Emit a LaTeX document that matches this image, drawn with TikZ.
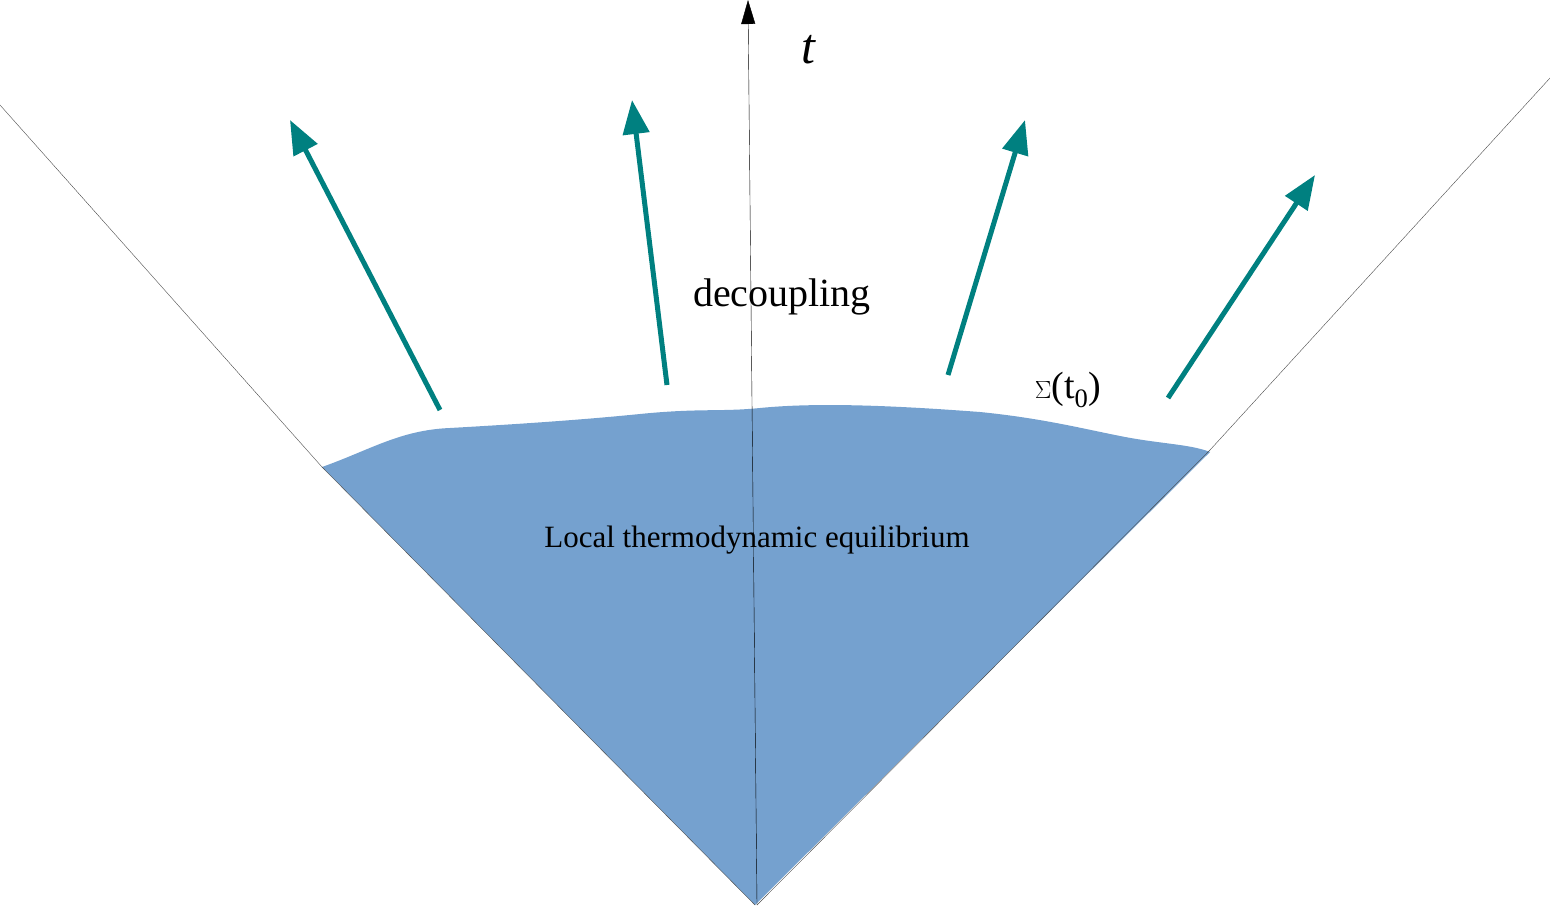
\documentclass[tikz,border=0pt]{standalone}
\usepackage{fontspec}
\setmainfont{Liberation Serif}
\usetikzlibrary{arrows.meta}
\definecolor{fillblue}{HTML}{75A1CF}
\definecolor{teal2}{HTML}{008080}
\tikzset{flow/.style={draw=teal2,line width=5pt,-{Triangle[length=34pt,width=26pt]}},
thin/.style={draw=black!70,line width=0.4pt}}
\begin{document}
\begin{tikzpicture}[x=1pt,y=-1pt]
\useasboundingbox (0,0) rectangle (1550,912);
\fill[fillblue] (755,905) -- (322,467) .. controls (370,450) and (400,430) .. (450,428)
 .. controls (520,424) and (580,420) .. (640,414) .. controls (700,408) and (720,412) .. (760,408)
 .. controls (820,402) and (900,406) .. (980,412) .. controls (1040,418) and (1080,428) .. (1120,436)
 .. controls (1160,444) and (1190,444) .. (1210,452) -- cycle;
\coordinate (apex) at (755,905);
\coordinate (ltop) at (0,105);
\coordinate (lmid) at (322,467);
\coordinate (rtop) at (1550,78);
\coordinate (rmid) at (1210,450);
\coordinate (ax) at (748,0);
\draw[thin] (ltop) -- (lmid) -- (apex);
\draw[thin] (rtop) -- (rmid) -- (757,905);
\draw[thin,-{Triangle[length=24pt,width=14pt]},draw=black] (757,905) -- (ax);
\node (t) at (808,50) {\fontsize{50}{50}\selectfont\itshape t};
\coordinate (a1s) at (440,410); \coordinate (a1e) at (290,120);
\coordinate (a2s) at (667,385); \coordinate (a2e) at (632,100);
\coordinate (a3s) at (948,375); \coordinate (a3e) at (1025,120);
\coordinate (a4s) at (1168,398); \coordinate (a4e) at (1315,175);
\draw[flow] (a1s) -- (a1e);
\draw[flow] (a2s) -- (a2e);
\draw[flow] (a3s) -- (a3e);
\draw[flow] (a4s) -- (a4e);
\node (dec) at (782,297) {\fontsize{40}{40}\selectfont decoupling};
\node (sig) at (1068,390) {\fontsize{38}{38}\selectfont $\Sigma$(t\textsubscript{0})};
\node (lte) at (757,540) {\fontsize{31}{31}\selectfont Local thermodynamic equilibrium};
\end{tikzpicture}
\end{document}
